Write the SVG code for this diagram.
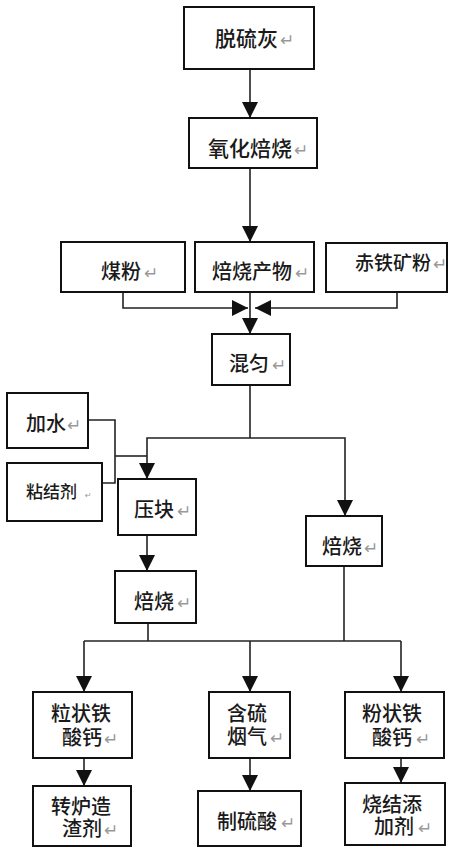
<svg xmlns="http://www.w3.org/2000/svg" width="474" height="854" viewBox="0 0 474 854">
<style>
.box{fill:#fff;stroke:#111;stroke-width:2}
.t{font-family:"Noto Sans CJK SC","Noto Sans",sans-serif;font-size:20px;font-weight:500;fill:#1a1a1a}
.m{font-family:"DejaVu Sans",sans-serif;font-size:17px;fill:#999}
.c{fill:none;stroke:#222;stroke-width:1.6}
</style>
<defs>
<marker id="ah" markerUnits="userSpaceOnUse" markerWidth="16" markerHeight="16" refX="15" refY="7.5" orient="auto" viewBox="0 0 15 15">
<path d="M0,0 L15,7.5 L0,15 z" fill="#111"/>
</marker>
</defs>
<rect width="474" height="854" fill="#fff"/>
<g id="connectors">
<path class="c" d="M250,69 V118" marker-end="url(#ah)"/>
<path class="c" d="M250,168 V242" marker-end="url(#ah)"/>
<path class="c" d="M123,292 V308 H248" marker-end="url(#ah)"/>
<path class="c" d="M397,292 V308 H255" marker-end="url(#ah)"/>
<path class="c" d="M250,292 V334" marker-end="url(#ah)"/>
<path class="c" d="M250,385 V438"/>
<path class="c" d="M250,438 H147 V479" marker-end="url(#ah)"/>
<path class="c" d="M250,438 H345 V516" marker-end="url(#ah)"/>
<path class="c" d="M88,420 H115 V483 H102"/>
<path class="c" d="M115,456 H147"/>
<path class="c" d="M147,535 V571" marker-end="url(#ah)"/>
<path class="c" d="M148,623 V641"/>
<path class="c" d="M344,566 V641"/>
<path class="c" d="M84,641 H401"/>
<path class="c" d="M84,641 V692" marker-end="url(#ah)"/>
<path class="c" d="M250,641 V692" marker-end="url(#ah)"/>
<path class="c" d="M401,641 V692" marker-end="url(#ah)"/>
<path class="c" d="M84,758 V786" marker-end="url(#ah)"/>
<path class="c" d="M250,758 V791" marker-end="url(#ah)"/>
<path class="c" d="M401,758 V783" marker-end="url(#ah)"/>
</g>
<g id="n1"><rect class="box" x="184" y="7" width="130" height="62"/><text class="t" x="215" y="46" style="font-size:21px">脱硫灰<tspan class="m" dx="2">↵</tspan></text></g>
<g id="n2"><rect class="box" x="189" y="118" width="128" height="50"/><text class="t" x="208" y="156" style="font-size:21px">氧化焙烧<tspan class="m" dx="2">↵</tspan></text></g>
<g id="n3"><rect class="box" x="61" y="242" width="124" height="50"/><text class="t" x="101" y="279">煤粉<tspan class="m" dx="3">↵</tspan></text></g>
<g id="n4"><rect class="box" x="195" y="242" width="119" height="50"/><text class="t" x="212" y="279">焙烧产物<tspan class="m" dx="3">↵</tspan></text></g>
<g id="n5"><rect class="box" x="326" y="243" width="121" height="49"/><text class="t" x="355" y="270" style="font-size:19px">赤铁矿粉<tspan class="m" dx="2">↵</tspan></text></g>
<g id="n6"><rect class="box" x="212" y="334" width="78" height="51"/><text class="t" x="229" y="371">混匀<tspan class="m" dx="3">↵</tspan></text></g>
<g id="n7"><rect class="box" x="7" y="393" width="81" height="55"/><text class="t" x="26" y="431">加水<tspan class="m" dx="1">↵</tspan></text></g>
<g id="n8"><rect class="box" x="7" y="463" width="95" height="58"/><text class="t" x="26" y="498" style="font-size:17px">粘结剂<tspan class="m" dx="8" style="font-size:8px">↵</tspan></text></g>
<g id="n9"><rect class="box" x="118" y="479" width="78" height="56"/><text class="t" x="134" y="517">压块<tspan class="m" dx="3">↵</tspan></text></g>
<g id="n10"><rect class="box" x="115" y="571" width="81" height="52"/><text class="t" x="134" y="609">焙烧<tspan class="m" dx="3">↵</tspan></text></g>
<g id="n11"><rect class="box" x="306" y="516" width="76" height="50"/><text class="t" x="322" y="554">焙烧<tspan class="m" dx="2">↵</tspan></text></g>
<g id="n12"><rect class="box" x="33" y="692" width="99" height="66"/><text class="t"><tspan x="51" y="721">粒状铁</tspan><tspan x="62" y="745">酸钙</tspan><tspan class="m" dx="2">↵</tspan></text></g>
<g id="n13"><rect class="box" x="209" y="692" width="81" height="66"/><text class="t"><tspan x="227" y="721">含硫</tspan><tspan x="227" y="744">烟气</tspan><tspan class="m" dx="3">↵</tspan></text></g>
<g id="n14"><rect class="box" x="345" y="692" width="99" height="66"/><text class="t"><tspan x="362" y="721">粉状铁</tspan><tspan x="372" y="745">酸钙</tspan><tspan class="m" dx="4">↵</tspan></text></g>
<g id="n15"><rect class="box" x="33" y="786" width="98" height="60"/><text class="t"><tspan x="51" y="814">转炉造</tspan><tspan x="62" y="836">渣剂</tspan><tspan class="m" dx="2">↵</tspan></text></g>
<g id="n16"><rect class="box" x="198" y="791" width="103" height="55"/><text class="t" x="217" y="829">制硫酸<tspan class="m" dx="4">↵</tspan></text></g>
<g id="n17"><rect class="box" x="345" y="783" width="100" height="62"/><text class="t"><tspan x="362" y="812">烧结添</tspan><tspan x="374" y="834">加剂</tspan><tspan class="m" dx="4">↵</tspan></text></g>
</svg>
